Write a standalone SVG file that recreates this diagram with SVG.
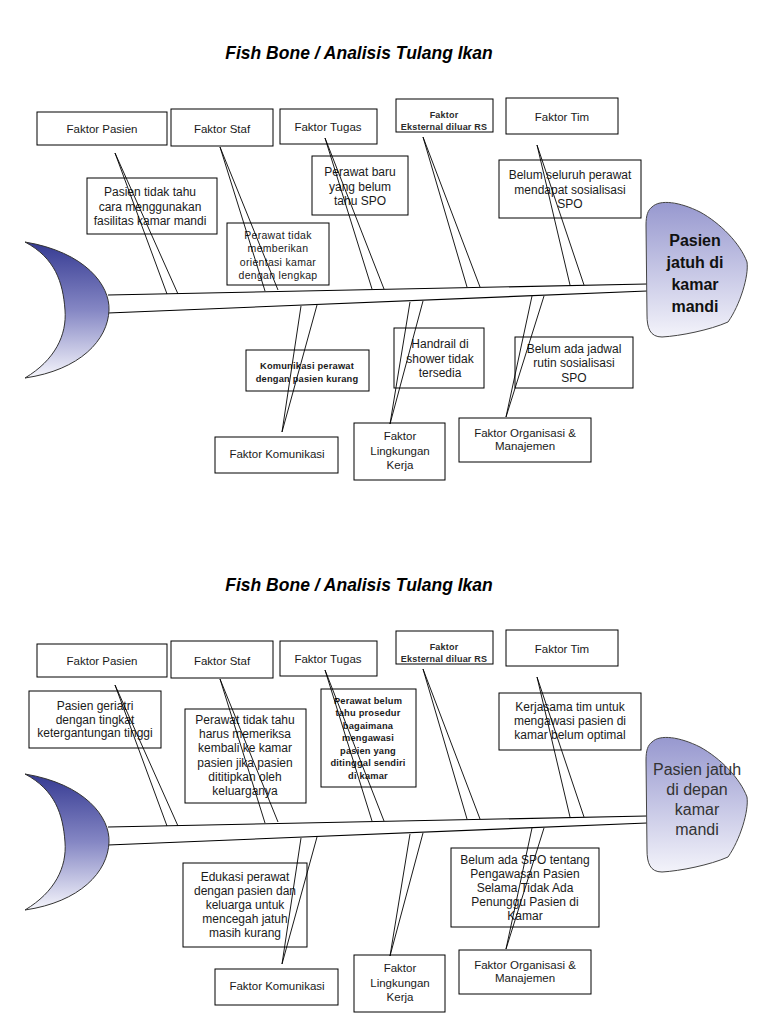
<svg xmlns="http://www.w3.org/2000/svg" width="768" height="1024" viewBox="0 0 768 1024">
<defs>
<linearGradient id="gTail" x1="0" y1="0" x2="0" y2="1">
<stop offset="0" stop-color="#353a92"/>
<stop offset="0.5" stop-color="#8587c4"/>
<stop offset="1" stop-color="#f6f6fc"/>
</linearGradient>
<linearGradient id="gHead" x1="0" y1="0" x2="0" y2="1">
<stop offset="0" stop-color="#9798cf"/>
<stop offset="1" stop-color="#f3f3fa"/>
</linearGradient>
<style>
.box{fill:#fff;stroke:#000;stroke-width:1}
.bone{stroke:#000;stroke-width:0.9;fill:none}
.spine{stroke:#000;stroke-width:1.1;fill:none}
.t{font-family:"Liberation Sans",Arial,sans-serif;font-size:12px;fill:#1a1a1a;text-anchor:middle}
.lbl{font-size:11.5px}
.sm{font-size:10.5px;letter-spacing:.3px}
.bsm{font-size:9.3px;font-weight:bold;letter-spacing:.2px}
.esm{font-size:9px;font-weight:bold;letter-spacing:.2px;fill:#2a2a2a}
.title{font-size:17.5px;font-weight:bold;font-style:italic;fill:#000}
.tail{fill:url(#gTail);stroke:#333;stroke-width:1}
.head{fill:url(#gHead);stroke:#444;stroke-width:1}
.ht{font-size:16px;font-weight:bold;fill:#111}
.ht2{font-size:16px;fill:#333}
</style>
</defs>
<rect width="768" height="1024" fill="#fff"/>

<g id="diagram1">
<text class="t title" x="359" y="59">Fish Bone / Analisis Tulang Ikan</text>

<g id="d1-faktor-pasien"><rect class="box" x="37" y="112" width="130" height="33"/><text class="t lbl" x="102" y="133">Faktor Pasien</text></g>
<g id="d1-faktor-staf"><rect class="box" x="171" y="109" width="102" height="37"/><text class="t lbl" x="222" y="133">Faktor Staf</text></g>
<g id="d1-faktor-tugas"><rect class="box" x="280" y="109" width="97" height="35"/><text class="t lbl" x="328" y="131">Faktor Tugas</text></g>
<g id="d1-faktor-eksternal"><rect class="box" x="396" y="99" width="97" height="33"/><text class="t esm" x="444" y="118">Faktor</text><text class="t esm" x="444" y="129.5">Eksternal diluar RS</text></g>
<g id="d1-faktor-tim"><rect class="box" x="506" y="98" width="112" height="36"/><text class="t lbl" x="562" y="121">Faktor Tim</text></g>
<g id="d1-faktor-komunikasi"><rect class="box" x="215" y="437" width="123" height="36"/><text class="t lbl" x="277" y="458">Faktor Komunikasi</text></g>
<g id="d1-faktor-lingkungan"><rect class="box" x="354" y="423" width="91" height="57"/><text class="t lbl" x="400" y="440">Faktor</text><text class="t lbl" x="400" y="455">Lingkungan</text><text class="t lbl" x="400" y="469">Kerja</text></g>
<g id="d1-faktor-organisasi"><rect class="box" x="459" y="418" width="132" height="44"/><text class="t lbl" x="525" y="437">Faktor Organisasi &amp;</text><text class="t lbl" x="525" y="450">Manajemen</text></g>

<g id="d1-c-pasien"><rect class="box" x="87" y="178" width="130" height="56"/><text class="t" x="150" y="196">Pasien tidak tahu</text><text class="t" x="150" y="210.5">cara menggunakan</text><text class="t" x="150" y="225">fasilitas kamar mandi</text></g>
<g id="d1-c-staf"><rect class="box" x="227" y="223" width="102" height="62"/><text class="t sm" x="278" y="239">Perawat tidak</text><text class="t sm" x="278" y="252">memberikan</text><text class="t sm" x="278" y="266">orientasi kamar</text><text class="t sm" x="278" y="279">dengan lengkap</text></g>
<g id="d1-c-tugas"><rect class="box" x="312" y="156" width="96" height="59"/><text class="t" x="360" y="176">Perawat baru</text><text class="t" x="360" y="191">yang belum</text><text class="t" x="360" y="205">tahu SPO</text></g>
<g id="d1-c-tim"><rect class="box" x="499" y="160" width="142" height="58"/><text class="t" x="570" y="179">Belum seluruh perawat</text><text class="t" x="570" y="193.5">mendapat sosialisasi</text><text class="t" x="570" y="208">SPO</text></g>
<g id="d1-c-komunikasi"><rect class="box" x="246" y="350" width="123" height="41"/><text class="t bsm" x="307" y="368.5">Komunikasi perawat</text><text class="t bsm" x="307" y="381.5">dengan pasien kurang</text></g>
<g id="d1-c-lingkungan"><rect class="box" x="394" y="328" width="90" height="60"/><text class="t" x="440" y="348">Handrail di</text><text class="t" x="440" y="362.5">shower tidak</text><text class="t" x="440" y="377">tersedia</text></g>
<g id="d1-c-organisasi"><rect class="box" x="515" y="337" width="118" height="51"/><text class="t" x="574" y="353">Belum ada jadwal</text><text class="t" x="574" y="367">rutin sosialisasi</text><text class="t" x="574" y="381.5">SPO</text></g>

<g id="d1-connectors">
<line class="spine" x1="108" y1="295" x2="647" y2="284"/>
<line class="spine" x1="108" y1="313" x2="647" y2="291"/>
<path class="bone" d="M115,153 L167,294 M115,153 L178,294"/>
<path class="bone" d="M220,147 L265,291 M220,147 L278,290"/>
<path class="bone" d="M325,138 L372,289 M325,138 L384,289"/>
<path class="bone" d="M423,137 L467,287 M423,137 L480,287"/>
<path class="bone" d="M537,145 L570,285 M537,145 L584,285"/>
<path class="bone" d="M301,306 L282,432 M317,305 L282,432"/>
<path class="bone" d="M410,302 L390,424 M423,301 L390,424"/>
<path class="bone" d="M532,296 L506,417 M544,296 L506,417"/>
</g>

<g id="d1-tail"><path class="tail" d="M25,242 C85,252 110,285 109,310 C108,340 80,370 25,378 C55,360 67,335 65,310 C63,282 55,258 25,242 Z"/></g>
<g id="d1-head"><path class="head" d="M652,207 C660,199 680,202 700,212 C720,223 740,243 747,262 C749,276 740,305 728,322 C710,330 680,336 662,337 C650,337 647,328 647,315 L646,225 C646,215 648,210 652,207 Z"/>
<text class="t ht" x="695" y="246">Pasien</text><text class="t ht" x="695" y="268">jatuh di</text><text class="t ht" x="695" y="290">kamar</text><text class="t ht" x="695" y="312">mandi</text></g>
</g>

<g id="diagram2" transform="translate(0,532)">
<text class="t title" x="359" y="59">Fish Bone / Analisis Tulang Ikan</text>

<g id="d2-faktor-pasien"><rect class="box" x="37" y="112" width="130" height="33"/><text class="t lbl" x="102" y="133">Faktor Pasien</text></g>
<g id="d2-faktor-staf"><rect class="box" x="171" y="109" width="102" height="37"/><text class="t lbl" x="222" y="133">Faktor Staf</text></g>
<g id="d2-faktor-tugas"><rect class="box" x="280" y="109" width="97" height="35"/><text class="t lbl" x="328" y="131">Faktor Tugas</text></g>
<g id="d2-faktor-eksternal"><rect class="box" x="396" y="99" width="97" height="33"/><text class="t esm" x="444" y="118">Faktor</text><text class="t esm" x="444" y="129.5">Eksternal diluar RS</text></g>
<g id="d2-faktor-tim"><rect class="box" x="506" y="98" width="112" height="36"/><text class="t lbl" x="562" y="121">Faktor Tim</text></g>
<g id="d2-faktor-komunikasi"><rect class="box" x="215" y="437" width="123" height="36"/><text class="t lbl" x="277" y="458">Faktor Komunikasi</text></g>
<g id="d2-faktor-lingkungan"><rect class="box" x="354" y="423" width="91" height="57"/><text class="t lbl" x="400" y="440">Faktor</text><text class="t lbl" x="400" y="455">Lingkungan</text><text class="t lbl" x="400" y="469">Kerja</text></g>
<g id="d2-faktor-organisasi"><rect class="box" x="459" y="418" width="132" height="44"/><text class="t lbl" x="525" y="437">Faktor Organisasi &amp;</text><text class="t lbl" x="525" y="450">Manajemen</text></g>

<g id="d2-c-pasien"><rect class="box" x="29" y="159" width="132" height="57"/><text class="t" x="95" y="178">Pasien geriatri</text><text class="t" x="95" y="191.5">dengan tingkat</text><text class="t" x="95" y="205">ketergantungan tinggi</text></g>
<g id="d2-c-staf"><rect class="box" x="185" y="177" width="121" height="94"/><text class="t" x="245" y="192">Perawat tidak tahu</text><text class="t" x="245" y="206">harus memeriksa</text><text class="t" x="245" y="220">kembali ke kamar</text><text class="t" x="245" y="234.5">pasien jika pasien</text><text class="t" x="245" y="248.5">dititipkan oleh</text><text class="t" x="245" y="263">keluarganya</text></g>
<g id="d2-c-tugas"><rect class="box" x="321" y="157" width="95" height="98"/><text class="t bsm" x="368" y="171.5">Perawat belum</text><text class="t bsm" x="368" y="184">tahu prosedur</text><text class="t bsm" x="368" y="196.5">bagaimana</text><text class="t bsm" x="368" y="209">mengawasi</text><text class="t bsm" x="368" y="221.5">pasien yang</text><text class="t bsm" x="368" y="234">ditinggal sendiri</text><text class="t bsm" x="368" y="246.5">di kamar</text></g>
<g id="d2-c-tim"><rect class="box" x="499" y="161" width="142" height="57"/><text class="t" x="570" y="179">Kerjasama tim untuk</text><text class="t" x="570" y="193">mengawasi pasien di</text><text class="t" x="570" y="206.5">kamar belum optimal</text></g>
<g id="d2-c-komunikasi"><rect class="box" x="183" y="331" width="124" height="84"/><text class="t" x="245" y="349">Edukasi perawat</text><text class="t" x="245" y="363">dengan pasien dan</text><text class="t" x="245" y="377">keluarga untuk</text><text class="t" x="245" y="391">mencegah jatuh</text><text class="t" x="245" y="405">masih kurang</text></g>
<g id="d2-c-organisasi"><rect class="box" x="451" y="316" width="148" height="79"/><text class="t" x="525" y="332">Belum ada SPO tentang</text><text class="t" x="525" y="346">Pengawasan Pasien</text><text class="t" x="525" y="360">Selama Tidak Ada</text><text class="t" x="525" y="374">Penunggu Pasien di</text><text class="t" x="525" y="388">Kamar</text></g>

<g id="d2-connectors">
<line class="spine" x1="108" y1="295" x2="647" y2="284"/>
<line class="spine" x1="108" y1="313" x2="647" y2="291"/>
<path class="bone" d="M115,153 L167,294 M115,153 L178,294"/>
<path class="bone" d="M220,147 L265,291 M220,147 L278,290"/>
<path class="bone" d="M325,138 L372,289 M325,138 L384,289"/>
<path class="bone" d="M423,137 L467,287 M423,137 L480,287"/>
<path class="bone" d="M537,145 L570,285 M537,145 L584,285"/>
<path class="bone" d="M301,306 L282,432 M317,305 L282,432"/>
<path class="bone" d="M410,302 L390,424 M423,301 L390,424"/>
<path class="bone" d="M532,296 L506,417 M544,296 L506,417"/>
</g>

<g id="d2-tail"><path class="tail" d="M25,242 C85,252 110,285 109,310 C108,340 80,370 25,378 C55,360 67,335 65,310 C63,282 55,258 25,242 Z"/></g>
<g id="d2-head"><path class="head" d="M652,210 C660,202 680,205 700,215 C720,226 740,246 747,265 C749,279 740,308 728,325 C710,333 680,339 662,340 C650,340 647,331 647,318 L646,228 C646,218 648,213 652,210 Z"/>
<text class="t ht2" x="697" y="243">Pasien jatuh</text><text class="t ht2" x="697" y="263">di depan</text><text class="t ht2" x="697" y="283">kamar</text><text class="t ht2" x="697" y="303">mandi</text></g>
</g>
</svg>
